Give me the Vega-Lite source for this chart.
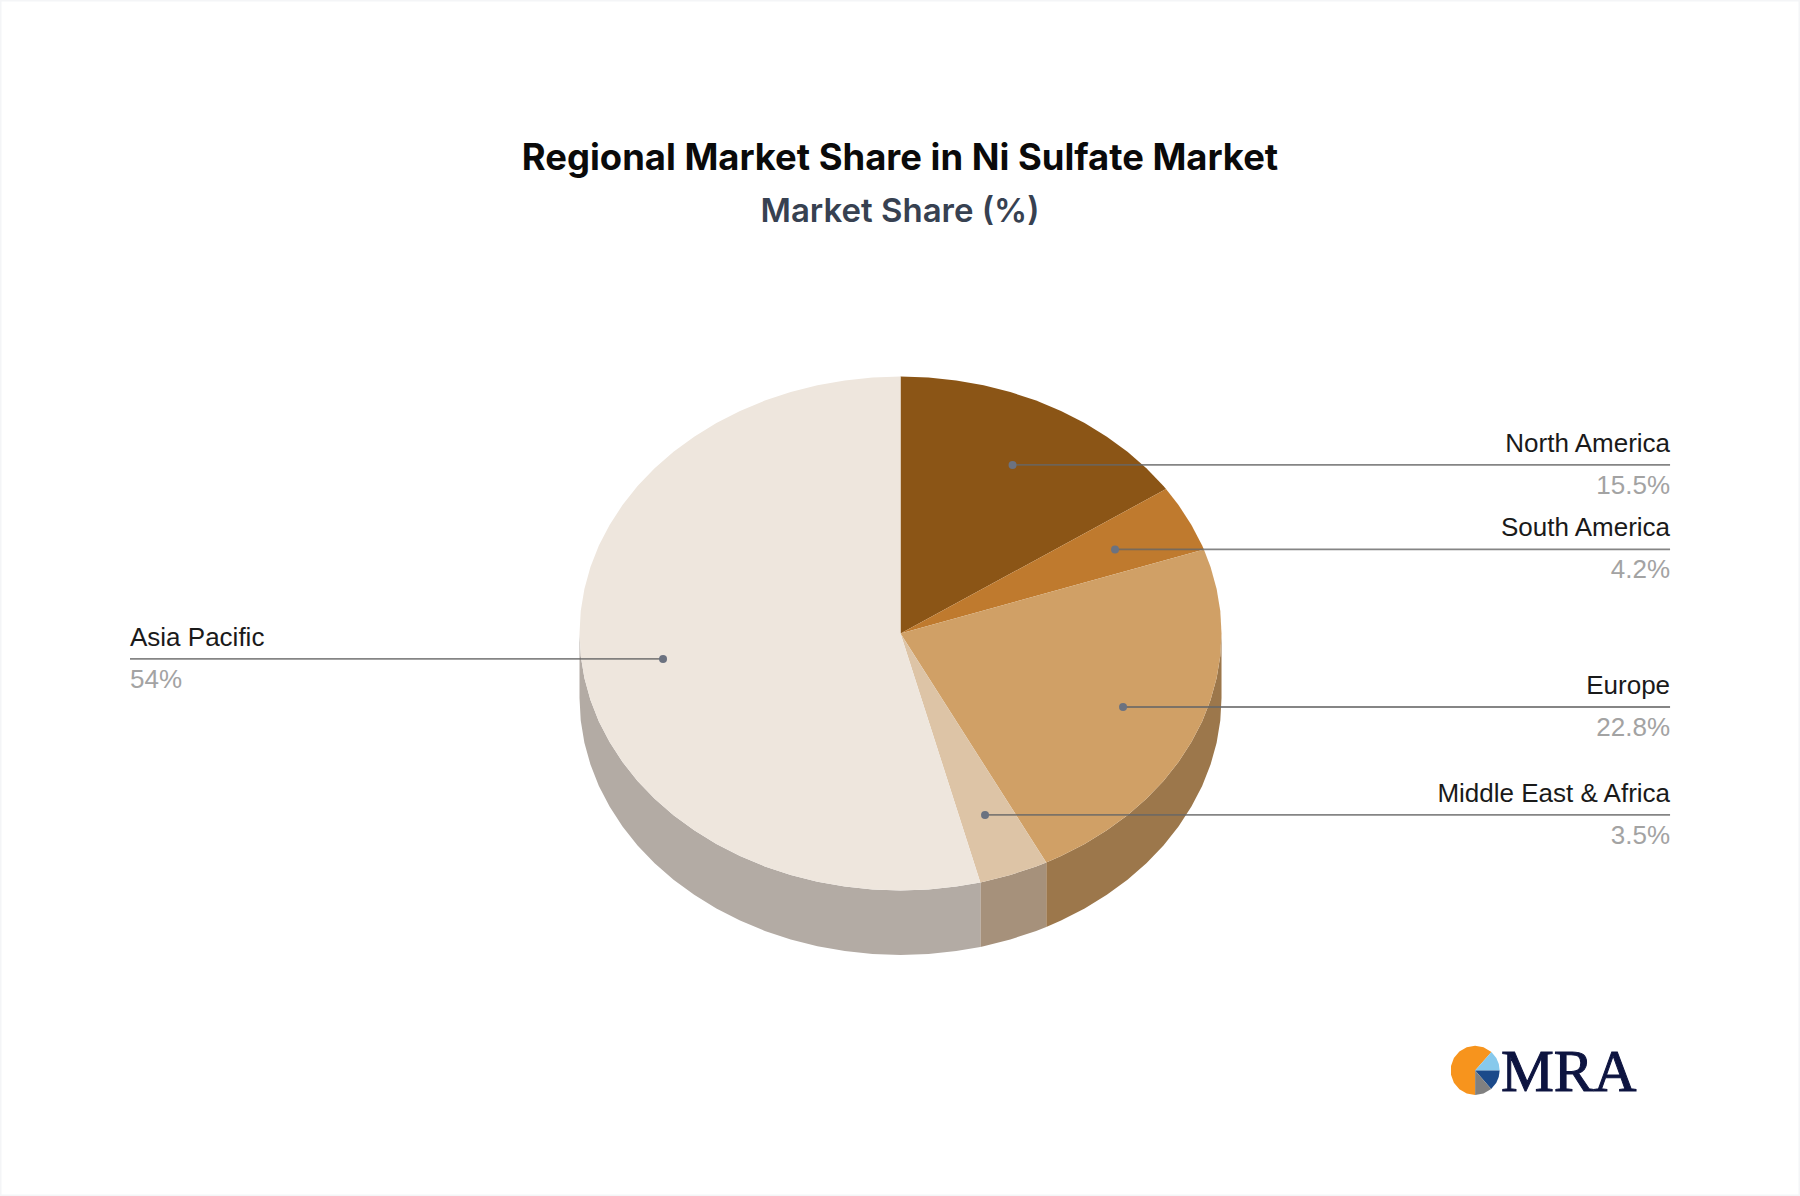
{
  "$schema": "https://vega.github.io/schema/vega-lite/v6.json",
  "description": "Regional market share in the Ni sulfate market",
  "width": 1800,
  "height": 1196,
  "padding": 0,
  "autosize": "none",
  "background": "white",
  "title": {
    "text": "Regional Market Share in Ni Sulfate Market",
    "subtitle": "Market Share (%)",
    "anchor": "middle",
    "dy": 233,
    "font": "Inter",
    "fontSize": 36.4,
    "fontWeight": 700,
    "color": "#0a0a0a",
    "subtitleFont": "Inter",
    "subtitleFontSize": 33,
    "subtitleFontWeight": 600,
    "subtitleColor": "#374151",
    "subtitlePadding": 18.5
  },
  "config": {"view": {"stroke": "#f4f5f7", "strokeWidth": 3}},
  "datasets": {
    "tops": [
      {"region":"North America","ord":0,"x":0,"y":0},{"region":"North America","ord":1,"x":0,"y":1},{"region":"North America","ord":2,"x":0.0872,"y":0.9962},{"region":"North America","ord":3,"x":0.1736,"y":0.9848},{"region":"North America","ord":4,"x":0.2588,"y":0.9659},{"region":"North America","ord":5,"x":0.342,"y":0.9397},{"region":"North America","ord":6,"x":0.4226,"y":0.9063},{"region":"North America","ord":7,"x":0.5,"y":0.866},{"region":"North America","ord":8,"x":0.5736,"y":0.8192},{"region":"North America","ord":9,"x":0.6428,"y":0.766},{"region":"North America","ord":10,"x":0.7071,"y":0.7071},{"region":"North America","ord":11,"x":0.766,"y":0.6428},{"region":"North America","ord":12,"x":0.8192,"y":0.5736},{"region":"North America","ord":13,"x":0.8271,"y":0.5621},
      {"region":"South America","ord":0,"x":0,"y":0},{"region":"South America","ord":1,"x":0.8271,"y":0.5621},{"region":"South America","ord":2,"x":0.866,"y":0.5},{"region":"South America","ord":3,"x":0.9063,"y":0.4226},{"region":"South America","ord":4,"x":0.9397,"y":0.342},{"region":"South America","ord":5,"x":0.9451,"y":0.3269},
      {"region":"Europe","ord":0,"x":0,"y":0},{"region":"Europe","ord":1,"x":0.9451,"y":0.3269},{"region":"Europe","ord":2,"x":0.9659,"y":0.2588},{"region":"Europe","ord":3,"x":0.9848,"y":0.1736},{"region":"Europe","ord":4,"x":0.9962,"y":0.0872},{"region":"Europe","ord":5,"x":1,"y":0},{"region":"Europe","ord":6,"x":0.9962,"y":-0.0872},{"region":"Europe","ord":7,"x":0.9848,"y":-0.1736},{"region":"Europe","ord":8,"x":0.9659,"y":-0.2588},{"region":"Europe","ord":9,"x":0.9397,"y":-0.342},{"region":"Europe","ord":10,"x":0.9063,"y":-0.4226},{"region":"Europe","ord":11,"x":0.866,"y":-0.5},{"region":"Europe","ord":12,"x":0.8192,"y":-0.5736},{"region":"Europe","ord":13,"x":0.766,"y":-0.6428},{"region":"Europe","ord":14,"x":0.7071,"y":-0.7071},{"region":"Europe","ord":15,"x":0.6428,"y":-0.766},{"region":"Europe","ord":16,"x":0.5736,"y":-0.8192},{"region":"Europe","ord":17,"x":0.5,"y":-0.866},{"region":"Europe","ord":18,"x":0.454,"y":-0.891},
      {"region":"Middle East & Africa","ord":0,"x":0,"y":0},{"region":"Middle East & Africa","ord":1,"x":0.454,"y":-0.891},{"region":"Middle East & Africa","ord":2,"x":0.4226,"y":-0.9063},{"region":"Middle East & Africa","ord":3,"x":0.342,"y":-0.9397},{"region":"Middle East & Africa","ord":4,"x":0.2588,"y":-0.9659},{"region":"Middle East & Africa","ord":5,"x":0.2487,"y":-0.9686},
      {"region":"Asia Pacific","ord":0,"x":0,"y":0},{"region":"Asia Pacific","ord":1,"x":0.2487,"y":-0.9686},{"region":"Asia Pacific","ord":2,"x":0.1736,"y":-0.9848},{"region":"Asia Pacific","ord":3,"x":0.0872,"y":-0.9962},{"region":"Asia Pacific","ord":4,"x":0,"y":-1},{"region":"Asia Pacific","ord":5,"x":-0.0872,"y":-0.9962},{"region":"Asia Pacific","ord":6,"x":-0.1736,"y":-0.9848},{"region":"Asia Pacific","ord":7,"x":-0.2588,"y":-0.9659},{"region":"Asia Pacific","ord":8,"x":-0.342,"y":-0.9397},{"region":"Asia Pacific","ord":9,"x":-0.4226,"y":-0.9063},{"region":"Asia Pacific","ord":10,"x":-0.5,"y":-0.866},{"region":"Asia Pacific","ord":11,"x":-0.5736,"y":-0.8192},{"region":"Asia Pacific","ord":12,"x":-0.6428,"y":-0.766},{"region":"Asia Pacific","ord":13,"x":-0.7071,"y":-0.7071},{"region":"Asia Pacific","ord":14,"x":-0.766,"y":-0.6428},{"region":"Asia Pacific","ord":15,"x":-0.8192,"y":-0.5736},{"region":"Asia Pacific","ord":16,"x":-0.866,"y":-0.5},{"region":"Asia Pacific","ord":17,"x":-0.9063,"y":-0.4226},{"region":"Asia Pacific","ord":18,"x":-0.9397,"y":-0.342},{"region":"Asia Pacific","ord":19,"x":-0.9659,"y":-0.2588},{"region":"Asia Pacific","ord":20,"x":-0.9848,"y":-0.1736},{"region":"Asia Pacific","ord":21,"x":-0.9962,"y":-0.0872},{"region":"Asia Pacific","ord":22,"x":-1,"y":0},{"region":"Asia Pacific","ord":23,"x":-0.9962,"y":0.0872},{"region":"Asia Pacific","ord":24,"x":-0.9848,"y":0.1736},{"region":"Asia Pacific","ord":25,"x":-0.9659,"y":0.2588},{"region":"Asia Pacific","ord":26,"x":-0.9397,"y":0.342},{"region":"Asia Pacific","ord":27,"x":-0.9063,"y":0.4226},{"region":"Asia Pacific","ord":28,"x":-0.866,"y":0.5},{"region":"Asia Pacific","ord":29,"x":-0.8192,"y":0.5736},{"region":"Asia Pacific","ord":30,"x":-0.766,"y":0.6428},{"region":"Asia Pacific","ord":31,"x":-0.7071,"y":0.7071},{"region":"Asia Pacific","ord":32,"x":-0.6428,"y":0.766},{"region":"Asia Pacific","ord":33,"x":-0.5736,"y":0.8192},{"region":"Asia Pacific","ord":34,"x":-0.5,"y":0.866},{"region":"Asia Pacific","ord":35,"x":-0.4226,"y":0.9063},{"region":"Asia Pacific","ord":36,"x":-0.342,"y":0.9397},{"region":"Asia Pacific","ord":37,"x":-0.2588,"y":0.9659},{"region":"Asia Pacific","ord":38,"x":-0.1736,"y":0.9848},{"region":"Asia Pacific","ord":39,"x":-0.0872,"y":0.9962},{"region":"Asia Pacific","ord":40,"x":0,"y":1}
    ],
    "sides": [
      {"region":"Europe","x":1,"y":0,"y2":-0.251},{"region":"Europe","x":0.9962,"y":-0.0872,"y2":-0.3382},{"region":"Europe","x":0.9848,"y":-0.1736,"y2":-0.4246},{"region":"Europe","x":0.9659,"y":-0.2588,"y2":-0.5098},{"region":"Europe","x":0.9397,"y":-0.342,"y2":-0.593},{"region":"Europe","x":0.9063,"y":-0.4226,"y2":-0.6736},{"region":"Europe","x":0.866,"y":-0.5,"y2":-0.751},{"region":"Europe","x":0.8192,"y":-0.5736,"y2":-0.8246},{"region":"Europe","x":0.766,"y":-0.6428,"y2":-0.8938},{"region":"Europe","x":0.7071,"y":-0.7071,"y2":-0.9581},{"region":"Europe","x":0.6428,"y":-0.766,"y2":-1.017},{"region":"Europe","x":0.5736,"y":-0.8192,"y2":-1.0702},{"region":"Europe","x":0.5,"y":-0.866,"y2":-1.117},{"region":"Europe","x":0.454,"y":-0.891,"y2":-1.142},
      {"region":"Middle East & Africa","x":0.454,"y":-0.891,"y2":-1.142},{"region":"Middle East & Africa","x":0.4226,"y":-0.9063,"y2":-1.1573},{"region":"Middle East & Africa","x":0.342,"y":-0.9397,"y2":-1.1907},{"region":"Middle East & Africa","x":0.2588,"y":-0.9659,"y2":-1.2169},{"region":"Middle East & Africa","x":0.2487,"y":-0.9686,"y2":-1.2196},
      {"region":"Asia Pacific","x":0.2487,"y":-0.9686,"y2":-1.2196},{"region":"Asia Pacific","x":0.1736,"y":-0.9848,"y2":-1.2358},{"region":"Asia Pacific","x":0.0872,"y":-0.9962,"y2":-1.2472},{"region":"Asia Pacific","x":0,"y":-1,"y2":-1.251},{"region":"Asia Pacific","x":-0.0872,"y":-0.9962,"y2":-1.2472},{"region":"Asia Pacific","x":-0.1736,"y":-0.9848,"y2":-1.2358},{"region":"Asia Pacific","x":-0.2588,"y":-0.9659,"y2":-1.2169},{"region":"Asia Pacific","x":-0.342,"y":-0.9397,"y2":-1.1907},{"region":"Asia Pacific","x":-0.4226,"y":-0.9063,"y2":-1.1573},{"region":"Asia Pacific","x":-0.5,"y":-0.866,"y2":-1.117},{"region":"Asia Pacific","x":-0.5736,"y":-0.8192,"y2":-1.0702},{"region":"Asia Pacific","x":-0.6428,"y":-0.766,"y2":-1.017},{"region":"Asia Pacific","x":-0.7071,"y":-0.7071,"y2":-0.9581},{"region":"Asia Pacific","x":-0.766,"y":-0.6428,"y2":-0.8938},{"region":"Asia Pacific","x":-0.8192,"y":-0.5736,"y2":-0.8246},{"region":"Asia Pacific","x":-0.866,"y":-0.5,"y2":-0.751},{"region":"Asia Pacific","x":-0.9063,"y":-0.4226,"y2":-0.6736},{"region":"Asia Pacific","x":-0.9397,"y":-0.342,"y2":-0.593},{"region":"Asia Pacific","x":-0.9659,"y":-0.2588,"y2":-0.5098},{"region":"Asia Pacific","x":-0.9848,"y":-0.1736,"y2":-0.4246},{"region":"Asia Pacific","x":-0.9962,"y":-0.0872,"y2":-0.3382},{"region":"Asia Pacific","x":-1,"y":0,"y2":-0.251}
    ],
    "labels": [
      {"region":"North America","share":"15.5%","side":"right","x":0.349,"end":2.3973,"y":0.656},
      {"region":"South America","share":"4.2%","side":"right","x":0.6683,"end":2.3973,"y":0.327},
      {"region":"Europe","share":"22.8%","side":"right","x":0.6932,"end":2.3973,"y":-0.286},
      {"region":"Middle East & Africa","share":"3.5%","side":"right","x":0.2633,"end":2.3973,"y":-0.706},
      {"region":"Asia Pacific","share":"54%","side":"left","x":-0.7398,"end":-2.4003,"y":-0.099}
    ],
    "logoPie": [
      {"part":"orange","ord":0,"x":1.79,"y":-1.7},{"part":"orange","ord":1,"x":1.79,"y":-1.7961},{"part":"orange","ord":2,"x":1.7639,"y":-1.7903},{"part":"orange","ord":3,"x":1.741,"y":-1.7736},{"part":"orange","ord":4,"x":1.7239,"y":-1.7481},{"part":"orange","ord":5,"x":1.7149,"y":-1.7167},{"part":"orange","ord":6,"x":1.7149,"y":-1.6833},{"part":"orange","ord":7,"x":1.7239,"y":-1.652},{"part":"orange","ord":8,"x":1.741,"y":-1.6264},{"part":"orange","ord":9,"x":1.7639,"y":-1.6097},{"part":"orange","ord":10,"x":1.79,"y":-1.6039},{"part":"orange","ord":11,"x":1.8162,"y":-1.6097},{"part":"orange","ord":12,"x":1.8408,"y":-1.6281},
      {"part":"sky","ord":0,"x":1.79,"y":-1.7},{"part":"sky","ord":1,"x":1.8408,"y":-1.6281},{"part":"sky","ord":2,"x":1.8561,"y":-1.652},{"part":"sky","ord":3,"x":1.8638,"y":-1.6751},{"part":"sky","ord":4,"x":1.8664,"y":-1.7},
      {"part":"navy","ord":0,"x":1.79,"y":-1.7},{"part":"navy","ord":1,"x":1.8664,"y":-1.7},{"part":"navy","ord":2,"x":1.8638,"y":-1.7249},{"part":"navy","ord":3,"x":1.8561,"y":-1.7481},{"part":"navy","ord":4,"x":1.8401,"y":-1.7726},
      {"part":"grey","ord":0,"x":1.79,"y":-1.7},{"part":"grey","ord":1,"x":1.8401,"y":-1.7726},{"part":"grey","ord":2,"x":1.8162,"y":-1.7903},{"part":"grey","ord":3,"x":1.79,"y":-1.7961}
    ],
    "logoText": [
      {"word":"MRA","x":1.8705,"y":-1.78}
    ]
  },
  "encoding": {
    "x": {"field": "x", "type": "quantitative", "axis": null, "scale": {"domain": [-2.8053, 2.8021], "nice": false, "zero": false}},
    "y": {"field": "y", "type": "quantitative", "axis": null, "scale": {"domain": [-2.1887, 2.465], "nice": false, "zero": false}}
  },
  "layer": [
    {
      "data": {"name": "sides"},
      "mark": {"type": "area"},
      "encoding": {
        "y2": {"field": "y2"},
        "detail": {"field": "region"},
        "color": {"field": "region", "type": "nominal", "legend": null, "scale": {"domain": ["Europe", "Middle East & Africa", "Asia Pacific"], "range": ["#9c774b", "#a6917b", "#b3aba4"]}}
      }
    },
    {
      "data": {"name": "tops"},
      "mark": {"type": "line", "filled": true, "strokeWidth": 0},
      "encoding": {
        "order": {"field": "ord", "type": "quantitative"},
        "fill": {"field": "region", "type": "nominal", "legend": null, "scale": {"domain": ["North America", "South America", "Europe", "Middle East & Africa", "Asia Pacific"], "range": ["#8b5516", "#bf7a2e", "#d0a066", "#ddc4a6", "#eee6dd"]}}
      }
    },
    {
      "data": {"name": "labels"},
      "mark": {"type": "rule", "color": "#666666", "opacity": 0.8, "strokeWidth": 1.8},
      "encoding": {"x2": {"field": "end"}}
    },
    {
      "data": {"name": "labels"},
      "mark": {"type": "point", "filled": true, "color": "#6b7280", "size": 64, "opacity": 1}
    },
    {
      "data": {"name": "labels"},
      "transform": [{"filter": "datum.side == 'right'"}],
      "mark": {"type": "text", "align": "right", "baseline": "middle", "dy": -21, "font": "Liberation Sans", "fontSize": 26, "color": "#1a1a1a"},
      "encoding": {
        "x": {"field": "end", "type": "quantitative", "scale": {"domain": [-2.8053, 2.8021], "nice": false, "zero": false}},
        "text": {"field": "region"}
      }
    },
    {
      "data": {"name": "labels"},
      "transform": [{"filter": "datum.side == 'right'"}],
      "mark": {"type": "text", "align": "right", "baseline": "middle", "dy": 21, "font": "Liberation Sans", "fontSize": 26, "color": "#a3a3a3"},
      "encoding": {
        "x": {"field": "end", "type": "quantitative", "scale": {"domain": [-2.8053, 2.8021], "nice": false, "zero": false}},
        "text": {"field": "share"}
      }
    },
    {
      "data": {"name": "labels"},
      "transform": [{"filter": "datum.side == 'left'"}],
      "mark": {"type": "text", "align": "left", "baseline": "middle", "dy": -21, "font": "Liberation Sans", "fontSize": 26, "color": "#1a1a1a"},
      "encoding": {
        "x": {"field": "end", "type": "quantitative", "scale": {"domain": [-2.8053, 2.8021], "nice": false, "zero": false}},
        "text": {"field": "region"}
      }
    },
    {
      "data": {"name": "labels"},
      "transform": [{"filter": "datum.side == 'left'"}],
      "mark": {"type": "text", "align": "left", "baseline": "middle", "dy": 21, "font": "Liberation Sans", "fontSize": 26, "color": "#a3a3a3"},
      "encoding": {
        "x": {"field": "end", "type": "quantitative", "scale": {"domain": [-2.8053, 2.8021], "nice": false, "zero": false}},
        "text": {"field": "share"}
      }
    },
    {
      "data": {"name": "logoPie"},
      "mark": {"type": "line", "filled": true, "strokeWidth": 0},
      "encoding": {
        "order": {"field": "ord", "type": "quantitative"},
        "fill": {"field": "part", "type": "nominal", "legend": null, "scale": {"domain": ["orange", "sky", "navy", "grey"], "range": ["#f7941d", "#87c9ec", "#1b4a8a", "#808080"]}}
      }
    },
    {
      "data": {"name": "logoText"},
      "mark": {"type": "text", "align": "left", "baseline": "alphabetic", "font": "Liberation Serif", "fontSize": 59.5, "color": "#0d1440", "stroke": "#0d1440", "strokeWidth": 1},
      "encoding": {"text": {"field": "word"}}
    }
  ],
  "resolve": {"scale": {"color": "independent", "fill": "independent"}}
}
